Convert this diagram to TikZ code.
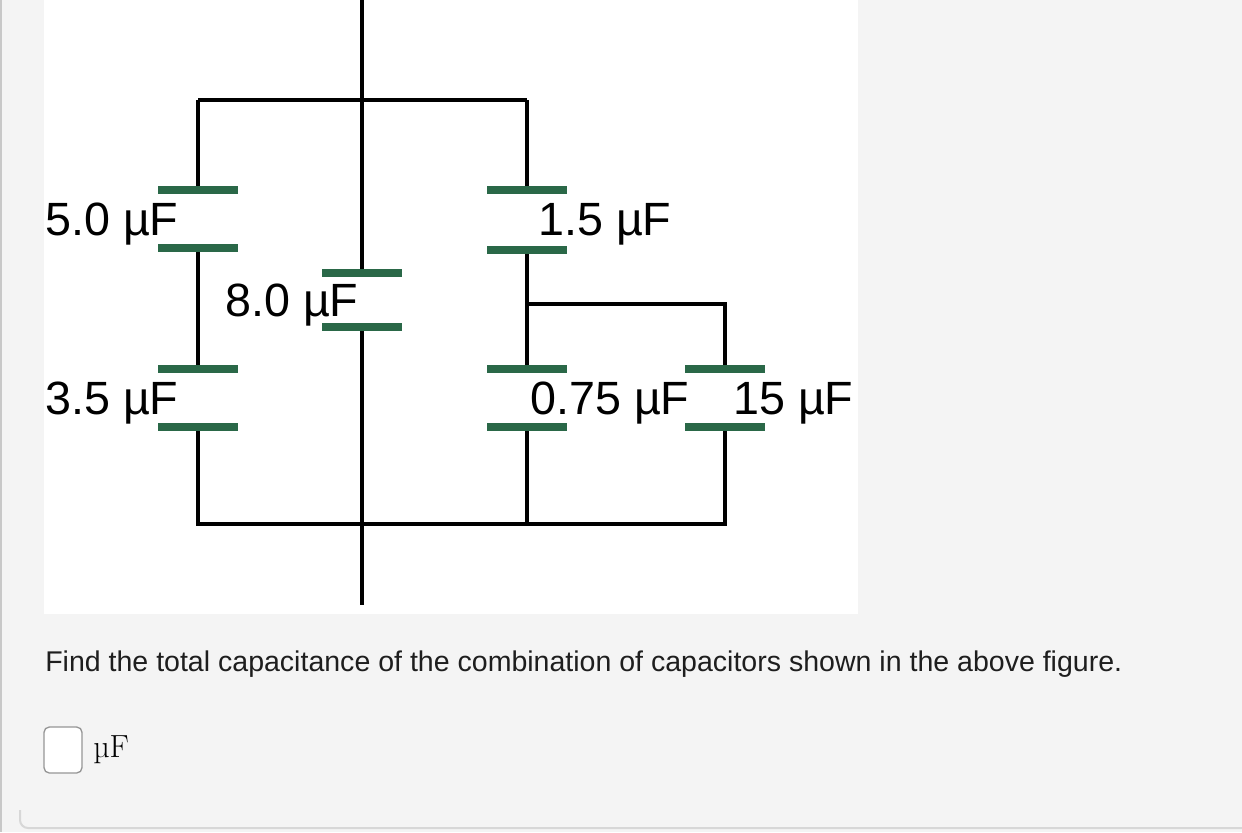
\documentclass[tikz,border=0pt]{standalone}
\usepackage{fontspec}
\setmainfont{Liberation Sans}
\newfontfamily\serifmu{Latin Modern Roman}
\definecolor{bgc}{RGB}{244,244,244}
\definecolor{edge1}{RGB}{200,200,200}
\definecolor{edge2}{RGB}{215,215,215}
\definecolor{platec}{RGB}{42,104,72}
\definecolor{boxc}{RGB}{150,150,150}
\definecolor{qtext}{RGB}{30,30,30}
\begin{document}
\begin{tikzpicture}[x=0.75pt,y=-0.75pt,
  wire/.style={line width=3pt,black},
  plate/.style={line width=6pt,draw=platec},
  lbl/.style={anchor=base west,inner sep=0pt,font=\fontsize{35}{38}\selectfont}]
\useasboundingbox (0,0) rectangle (1242,832);
\fill[bgc] (0,0) rectangle (1242,832);
\draw[line width=1.5pt,edge1] (1,0) -- (1,832);
\draw[line width=1.5pt,edge2,rounded corners=6pt] (1242,828) -- (20,828) -- (20,810);
\fill[white] (44,0) rectangle (858,614);
% junction coordinates
\coordinate (top) at (362,0);
\coordinate (tm) at (362,100);
\coordinate (tl) at (198,100);
\coordinate (tr) at (527,100);
\coordinate (bl) at (198,524);
\coordinate (bm) at (362,524);
\coordinate (br) at (527,524);
\coordinate (bx) at (725,524);
\coordinate (bot) at (362,605);
\coordinate (rj) at (527,304);
\coordinate (rx) at (725,304);
% plate coordinates
\foreach \n/\x/\y in {a1/198/190,a2/198/248,b1/198/369,b2/198/427,
  c1/362/273,c2/362/327,d1/527/190,d2/527/250,e1/527/369,e2/527/427,
  f1/725/369,f2/725/427}{\coordinate (\n) at (\x,\y);}
% wires
\draw[wire] (top) -- (tm);
\draw[wire] (tl) -- (tr);
\draw[wire] (tl) -- (a1);
\draw[wire] (a2) -- (b1);
\draw[wire] (b2) -- (bl) -- (bx) -- (f2);
\draw[wire] (tm) -- (c1);
\draw[wire] (c2) -- (bot);
\draw[wire] (tr) -- (d1);
\draw[wire] (d2) -- (rj) -- (e1);
\draw[wire] (rj) -- (rx) -- (f1);
\draw[wire] (e2) -- (br);
% plates
\foreach \p in {a1,a2,b1,b2,c1,c2,d1,d2,e1,e2,f1,f2}
  \draw[plate] ([xshift=-30pt]\p) -- ([xshift=30pt]\p);
% labels
\node[lbl] (la) at (45,235) {5.0 µF};
\node[lbl] (lb) at (45,414) {3.5 µF};
\node[lbl] (lc) at (225,316) {8.0 µF};
\node[lbl] (ld) at (538,235) {1.5 µF};
\node[lbl] (le) at (530,414) {0.75 µF};
\node[lbl] (lf) at (733,414) {15 µF};
% question
\node[anchor=base west,inner sep=0pt,text=qtext,font=\fontsize{21.4}{25}\selectfont] (q) at (45,671)
  {Find the total capacitance of the combination of capacitors shown in the above figure.};
\draw[line width=1pt,boxc,fill=white,rounded corners=4pt] (44,727) rectangle (82,773);
\node[anchor=base west,inner sep=0pt,font=\serifmu\fontsize{24}{28}\selectfont] (u) at (93,757) {µF};
\end{tikzpicture}
\end{document}
